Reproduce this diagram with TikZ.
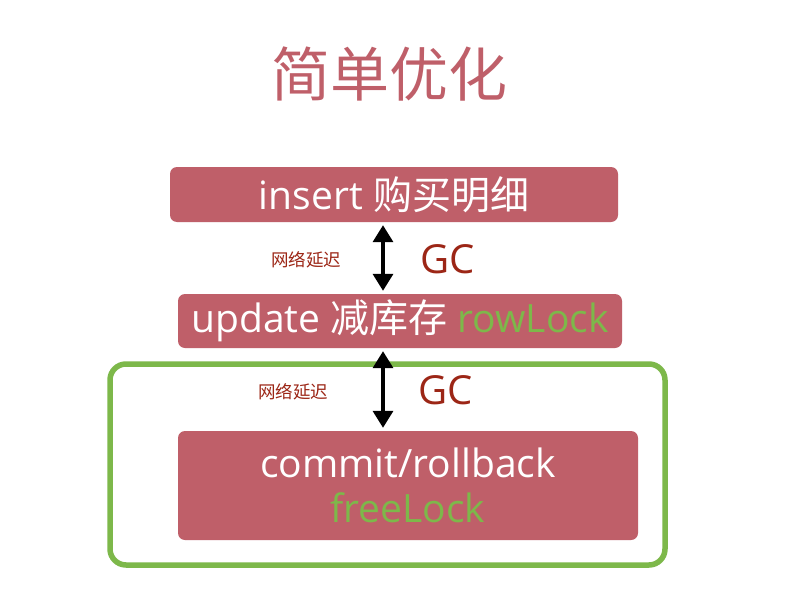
\documentclass[tikz,border=0pt]{standalone}
\usepackage{fontspec}
\setmainfont{Open Sans}
\newfontfamily\cjk{Noto Sans CJK SC}
\usetikzlibrary{arrows.meta}
\definecolor{boxred}{HTML}{BF5F69}
\definecolor{gcred}{HTML}{9C2616}
\definecolor{lockgreen}{HTML}{7DB84A}
\begin{document}
\begin{tikzpicture}[x=1pt,y=-1pt,
  redbox/.style={fill=boxred,rounded corners=7pt,text=white,inner sep=0pt,font=\fontsize{39}{45}\selectfont},
  dblarrow/.style={{Triangle[length=17pt,width=20pt]}-{Triangle[length=17pt,width=20pt]},line width=3.5pt},
  netlabel/.style={text=gcred,font=\cjk\fontsize{17.5}{20}\selectfont},
  gclabel/.style={text=gcred,font=\fontsize{40}{46}\selectfont\addfontfeatures{FakeBold=-0.6}}]
\useasboundingbox (0,0) rectangle (796,605);
\fill[white] (0,0) rectangle (796,605);
\node[text=boxred,font=\cjk\fontsize{59}{68}\selectfont] (title) at (389,74) {简单优化};
\draw[lockgreen,line width=5.5pt,rounded corners=16pt] (110,364) rectangle (665,565);
\node[redbox,minimum width=448pt,minimum height=55pt] (b1) at (394,194.5) {insert {\cjk 购买明细}};
\node[redbox,minimum width=444pt,minimum height=54pt] (b2) at (400,321) {update {\cjk 减库存} \textcolor{lockgreen}{rowLock}};
\node[redbox,minimum width=460pt,minimum height=109pt,align=center] (b3) at (408,485.5) {commit/rollback\\\textcolor{lockgreen}{freeLock}};
\coordinate (ax) at (383,0);
\draw[dblarrow] ([yshift=-3pt]ax |- b1.south) -- ([yshift=3pt]ax |- b2.north);
\draw[dblarrow] ([yshift=-3pt]ax |- b2.south) -- ([yshift=3pt]ax |- b3.north);
\node[netlabel] (n1) at (306,260) {网络延迟};
\node[gclabel] (g1) at (448,259) {GC};
\node[netlabel] (n2) at (293,392) {网络延迟};
\node[gclabel] (g2) at (446,390) {GC};
\end{tikzpicture}
\end{document}
